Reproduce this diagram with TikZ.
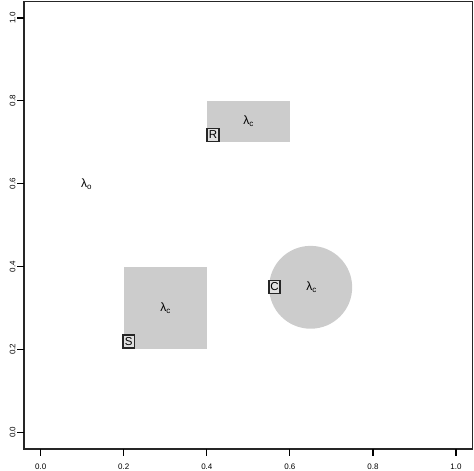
\documentclass[tikz,border=0pt]{standalone}
\usepackage{fontspec}
\setmainfont{Liberation Sans}
\begin{document}
\begin{tikzpicture}[
  region/.style={fill=black!20, draw=none},
  ticklab/.style={font=\fontsize{8}{9}\selectfont, inner sep=0pt},
  lam/.style={font=\fontsize{12}{14}\selectfont, inner sep=0pt},
  marker/.style={draw=black!85, line width=1.7pt, fill=black!12, inner sep=0pt,
    minimum width=11.5pt, minimum height=13pt, font=\fontsize{11.5}{13}\selectfont},
  tickline/.style={line width=1.2pt, black}
]
\useasboundingbox (0,0) rectangle (474pt,471pt);
\begin{scope}[shift={(40.7pt,38.7pt)}, x=415.3pt, y=414.3pt]
  % regions
  \fill[region] (0.4,0.7) rectangle (0.6,0.8);
  \fill[region] (0.2,0.2) rectangle (0.4,0.4);
  \fill[region] (0.65,0.35) circle[x radius=0.1, y radius=0.1];
  % frame
  \draw[line width=1.7pt, black!85] (-0.04,-0.04) rectangle (1.04,1.04);
  % ticks
  \foreach \v/\t/\n in {0/0.0/a,0.2/0.2/b,0.4/0.4/c,0.6/0.6/d,0.8/0.8/e,1/1.0/f} {
    \coordinate (bx\n) at (\v,-0.04);
    \coordinate (by\n) at (-0.04,\v);
    \draw[tickline] (bx\n) -- ++(0,-7pt);
    \draw[tickline] (by\n) -- ++(-7pt,0);
    \node[ticklab, anchor=center] (xl\n) at ([yshift=-17.5pt]bx\n) {\t};
    \node[ticklab, anchor=center, rotate=90] (yl\n) at ([xshift=-11.5pt]by\n) {\t};
  }
  % labels
  \node[lam] (lo) at (0.11,0.6) {λ\raisebox{-2pt}{\fontsize{8}{9}\selectfont o}};
  \node[lam] (lr) at (0.5,0.75) {λ\raisebox{-2pt}{\fontsize{8}{9}\selectfont c}};
  \node[lam] (ls) at (0.3,0.3) {λ\raisebox{-2pt}{\fontsize{8}{9}\selectfont c}};
  \node[lam] (lc) at (0.652,0.35) {λ\raisebox{-2pt}{\fontsize{8}{9}\selectfont c}};
  % markers
  \node[marker] (R) at (0.415,0.7176) {R};
  \node[marker] (S) at (0.212,0.219) {S};
  \node[marker] (C) at (0.563,0.351) {C};
\end{scope}
\end{tikzpicture}
\end{document}
